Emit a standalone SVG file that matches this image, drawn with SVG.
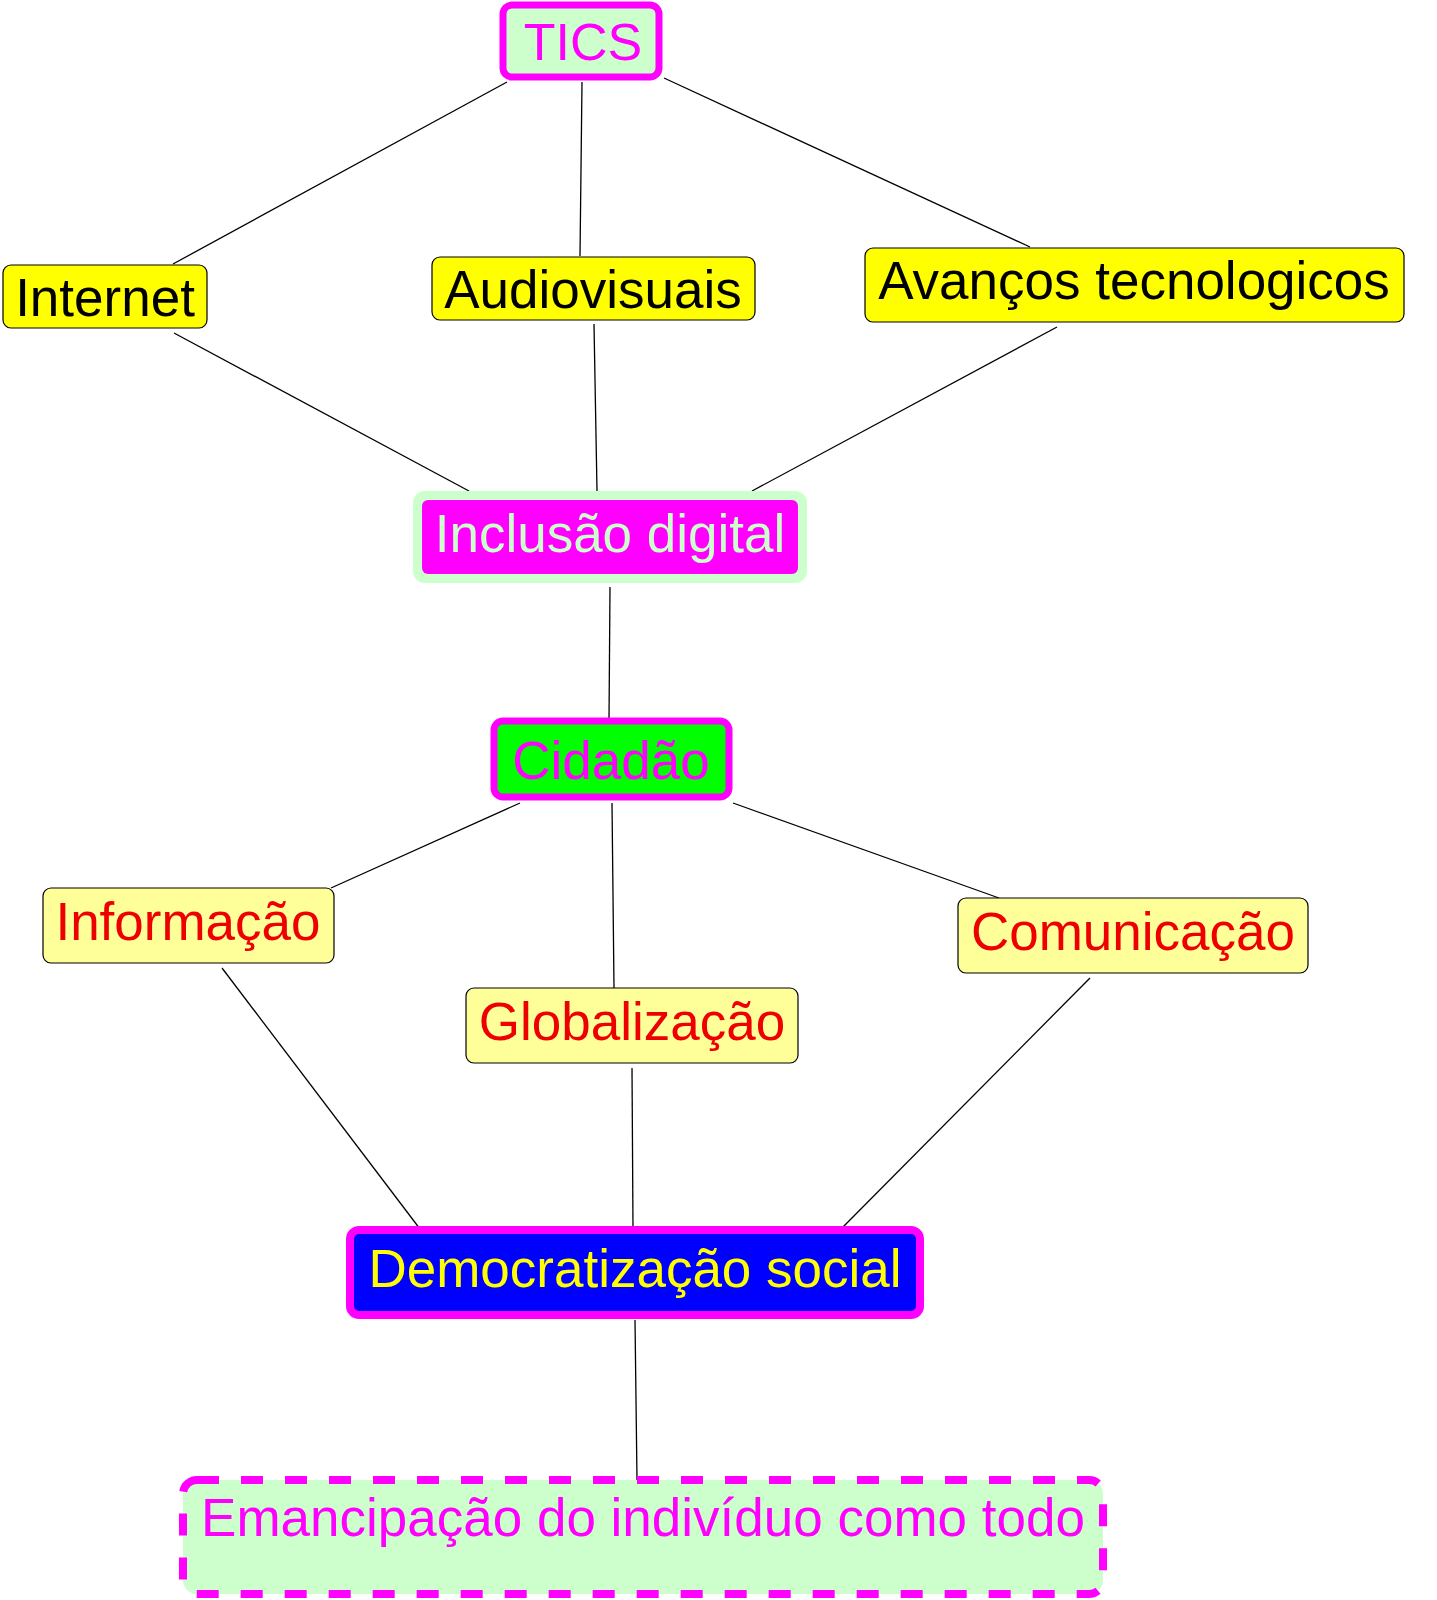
<svg xmlns="http://www.w3.org/2000/svg" width="1437" height="1600" viewBox="0 0 1437 1600">
<style>
text{font-family:"Liberation Sans",Arial,sans-serif;text-anchor:middle}
.y{fill:#ffff00;stroke:#000;stroke-width:1.2}
.ly{fill:#ffff99;stroke:#000;stroke-width:1.2}
.bk{fill:#000;font-size:53px}
.rd{fill:#ee0000;font-size:53px}
#edges line{stroke:#000;stroke-width:1.3}
</style>
<rect width="1437" height="1600" fill="#fff"/>
<g id="edges">
<line x1="507" y1="82" x2="173" y2="264"/>
<line x1="582" y1="82" x2="580" y2="256"/>
<line x1="664" y1="78" x2="1030" y2="247"/>
<line x1="174" y1="333" x2="469" y2="491"/>
<line x1="594" y1="324" x2="597" y2="491"/>
<line x1="1057" y1="327" x2="752" y2="491"/>
<line x1="610" y1="587" x2="609" y2="720"/>
<line x1="520" y1="803" x2="331" y2="888"/>
<line x1="612" y1="803" x2="614" y2="988"/>
<line x1="733" y1="803" x2="999" y2="898"/>
<line x1="222" y1="968" x2="420" y2="1229"/>
<line x1="632" y1="1068" x2="633" y2="1229"/>
<line x1="1090" y1="978" x2="841" y2="1229"/>
<line x1="635" y1="1320" x2="637" y2="1480"/>
</g>
<g id="tics"><rect x="503" y="5" width="156" height="72" rx="9" fill="#ccffcc" stroke="#ff00ff" stroke-width="7"/><text x="583" y="60" font-size="52" fill="#ff00ff">TICS</text></g>
<g id="internet"><rect class="y" x="3" y="265" width="204" height="63" rx="8"/><text class="bk" x="105" y="316">Internet</text></g>
<g id="audiovisuais"><rect class="y" x="432" y="257" width="323" height="63" rx="8"/><text class="bk" x="593" y="308">Audiovisuais</text></g>
<g id="avancos"><rect class="y" x="865" y="248" width="539" height="74" rx="8"/><text class="bk" x="1134" y="299">Avanços tecnologicos</text></g>
<g id="inclusao"><rect x="413" y="491" width="394" height="92" rx="12" fill="#ccffcc"/><rect x="422" y="500" width="376" height="74" rx="6" fill="#ff00ff"/><text x="610" y="552" font-size="53" fill="#ccffcc">Inclusão digital</text></g>
<g id="cidadao"><rect x="494" y="721" width="235" height="76" rx="9" fill="#00ff00" stroke="#ff00ff" stroke-width="7"/><text x="611" y="779" font-size="53" fill="#ff00ff">Cidadão</text></g>
<g id="informacao"><rect class="ly" x="43" y="888" width="291" height="75" rx="8"/><text class="rd" x="188" y="940">Informação</text></g>
<g id="globalizacao"><rect class="ly" x="466" y="988" width="332" height="75" rx="8"/><text class="rd" x="632" y="1040">Globalização</text></g>
<g id="comunicacao"><rect class="ly" x="958" y="898" width="350" height="75" rx="8"/><text class="rd" x="1133" y="950">Comunicação</text></g>
<g id="democratizacao"><rect x="350" y="1230" width="570" height="85" rx="9" fill="#0000ff" stroke="#ff00ff" stroke-width="8"/><text x="635" y="1287" font-size="53" fill="#ffff00">Democratização social</text></g>
<g id="emancipacao"><rect x="183" y="1480" width="920" height="114" rx="14" fill="#ccffcc" stroke="#ff00ff" stroke-width="8" stroke-dasharray="22 22"/><text x="643" y="1536" font-size="53" fill="#ff00ff">Emancipação do indivíduo como todo</text></g>
</svg>
